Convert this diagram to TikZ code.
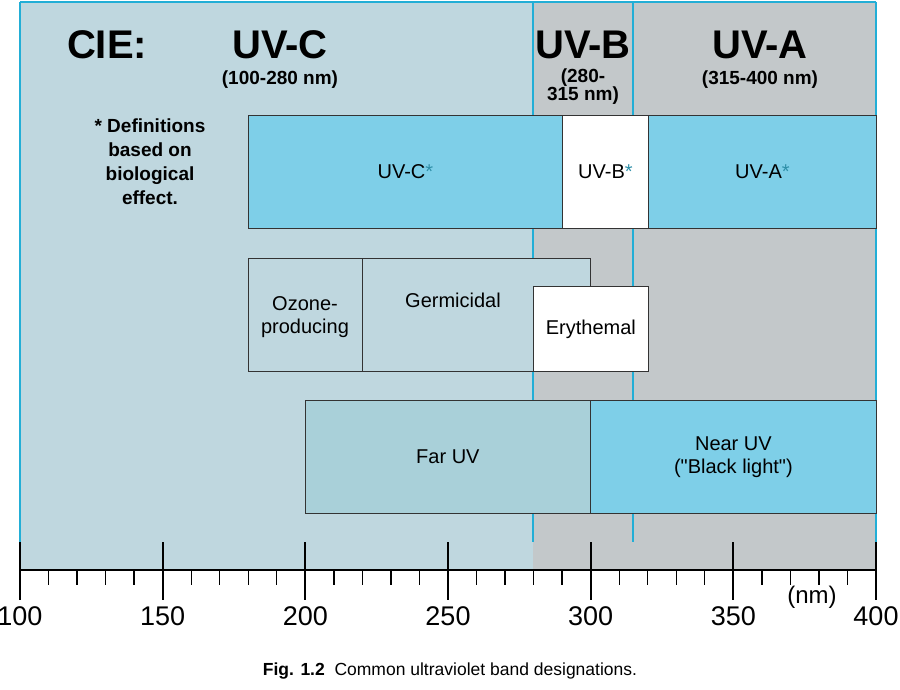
\documentclass[tikz,border=0pt]{standalone}
\usepackage{fontspec}
\setmainfont{Liberation Sans}[Ligatures=TeXOff]
\begin{document}
\begin{tikzpicture}[x=1pt,y=-1pt,
  bx/.style={draw=black!80,line width=0.8pt},
  cy/.style={draw=cyanl,line width=2pt},
  lab/.style={font=\fontsize{20}{23}\selectfont,align=center},
  big/.style={font=\fontsize{40}{42}\selectfont\bfseries},
  sm/.style={font=\fontsize{19}{20}\selectfont\bfseries,align=center}]
\definecolor{bgc}{HTML}{BFD7DF}
\definecolor{bgg}{HTML}{C3C8CA}
\definecolor{cyanl}{HTML}{22AED6}
\definecolor{boxc}{HTML}{7ECFE8}
\definecolor{far}{HTML}{A9D0D9}
\definecolor{ast}{HTML}{2E8FA8}
\useasboundingbox (0,0) rectangle (900,690);
\fill[white] (0,0) rectangle (900,690);
\fill[bgc] (20,2) rectangle (533,570);
\fill[bgg] (533,2) rectangle (876,570);
\draw[cy] (20,2) -- (876,2);
\foreach \x in {20,533,633,876} \draw[cy] (\x,2) -- (\x,542);
% boxes
\node[bx,fill=boxc,minimum width=314pt,minimum height=113pt,anchor=north west,inner sep=0] (uvc) at (248,115) {};
\node[bx,fill=white,minimum width=86pt,minimum height=113pt,anchor=north west,inner sep=0] (uvb) at (562,115) {};
\node[bx,fill=boxc,minimum width=228pt,minimum height=113pt,anchor=north west,inner sep=0] (uva) at (648,115) {};
\node[lab] at (uvc) {UV-C\textcolor{ast}{*}};
\node[lab] at (uvb) {UV-B\textcolor{ast}{*}};
\node[lab] at (uva) {UV-A\textcolor{ast}{*}};
\node[bx,fill=bgc,minimum width=114pt,minimum height=113pt,anchor=north west,inner sep=0] (oz) at (248,258) {};
\node[bx,fill=bgc,minimum width=228pt,minimum height=113pt,anchor=north west,inner sep=0] (ger) at (362,258) {};
\node[bx,fill=white,minimum width=115pt,minimum height=85pt,anchor=north west,inner sep=0] (ery) at (533,286) {};
\node[lab] at (305,317) {Ozone-\\producing};
\node[lab] at (453,300) {Germicidal};
\node[lab] at (ery) {Erythemal};
\node[bx,fill=far,minimum width=285pt,minimum height=113pt,anchor=north west,inner sep=0] (faruv) at (305,400) {};
\node[bx,fill=boxc,minimum width=286pt,minimum height=113pt,anchor=north west,inner sep=0] (near) at (590,400) {};
\node[lab] at (faruv) {Far UV};
\node[lab] at (near) {Near UV\\("Black light")};
% headings
\node[big] (cie) at (107,45) {CIE:};
\node[big] (hc) at (280,45) {UV-C};
\node[sm] at (280,80) {(100-280 nm)};
\node[big] (hb) at (583,45) {UV-B};
\node[font=\fontsize{19}{18}\selectfont\bfseries,align=center] at (583,87) {(280-\\315 nm)};
\node[big] (ha) at (760,45) {UV-A};
\node[sm] at (760,80) {(315-400 nm)};
\node[font=\fontsize{19}{24}\selectfont\bfseries,align=center] at (150,162) {* Definitions\\based on\\biological\\effect.};
% axis
\draw[line width=1.6pt] (20,570) -- (876,570);
\foreach \i in {0,...,30} {
  \pgfmathsetmacro\xx{20+\i*28.533}
  \draw[line width=1.3pt] (\xx,570) -- (\xx,585);
}
\foreach \i/\v in {0/100,1/150,2/200,3/250,4/300,5/350,6/400} {
  \pgfmathsetmacro\xx{20+\i*142.667}
  \draw[line width=1.8pt] (\xx,542) -- (\xx,600);
  \node[font=\fontsize{27}{28}\selectfont] at (\xx,616) {\v};
}
\node[font=\fontsize{24}{26}\selectfont] at (812,597) {(nm)};
\node[font=\fontsize{17.5}{19}\selectfont] at (450,671) {\textbf{Fig. 1.2}\ \ Common ultraviolet band designations.};
\end{tikzpicture}
\end{document}
